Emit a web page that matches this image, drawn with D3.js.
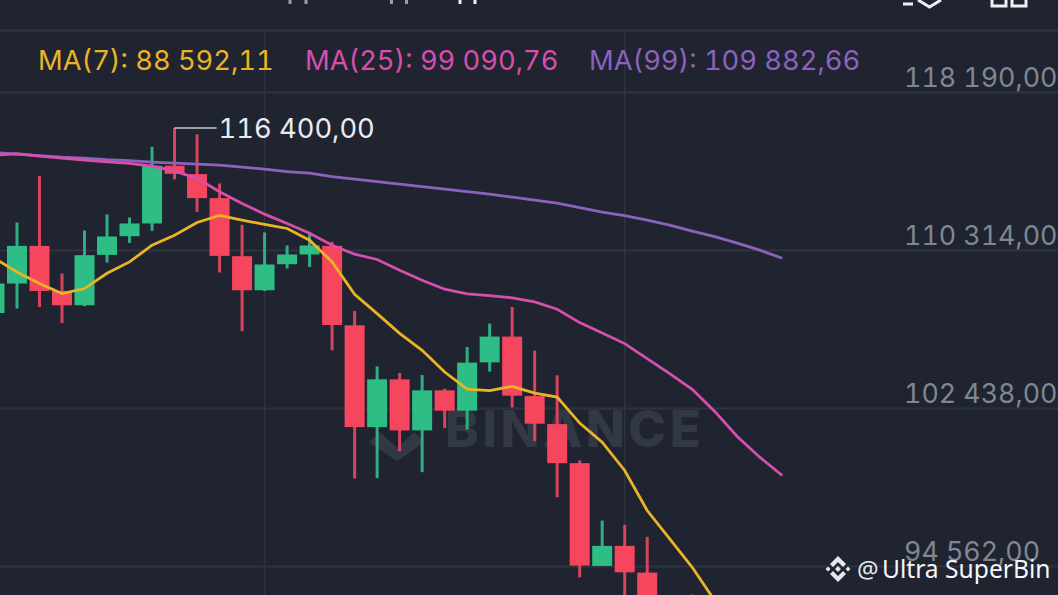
<!DOCTYPE html>
<html>
<head>
<meta charset="utf-8">
<script src="https://cdn.jsdelivr.net/npm/d3@7"></script>
<style>
  html, body { margin: 0; padding: 0; background: #1f2430; overflow: hidden; }
  text { font-family: Inter, "Noto Sans", sans-serif; font-variant-numeric: tabular-nums; }
</style>
</head>
<body>
<div id="chart"></div>
<script>
// candles, first one is cut by the left edge
var opens = [107175,108642,110519,108273,107559,110070,111003,111637,114512,114097,112900,110005,108308,109606,110090,110519,106561,101485,103866,101320,103317,102304,104714,105997,103032,101635,99688,94567,95565,94233,92336,91837];
var closes = [108642,110519,108273,107559,110055,110988,111637,114512,114113,112900,110020,108308,109591,110090,110539,106576,101485,103866,101320,103317,102304,104699,105997,103052,101655,99688,94582,95565,94248,90839,90839,90340];
var highs = [108642,111687,113998,109141,111288,112086,111936,115460,116400,116079,113633,111567,111188,110539,111218,110719,107275,104515,104180,104080,103402,105478,106646,107474,105298,104065,99823,96828,96614,96015,92835,93135];
var lows = [107175,107395,107474,106676,107509,109690,110669,111268,113833,112216,109191,106277,108273,109391,109471,105313,98925,98940,100287,99239,101435,101370,104250,102468,100786,97991,93998,94567,91837,90340,90340,89841];

var ma7 = [109905,109221,108642,108143,108393,109156,109721,110554,111053,111687,112036,111802,111587,111387,110803,109721,108108,107145,106162,105313,104230,103382,103302,103516,103182,102982,101685,100736,99324,97327,95915,94497,92835];
var ma25 = [115046,115111,114996,114896,114796,114711,114632,114497,114247,113883,113214,112635,112101,111637,111153,110554,110105,109840,109306,108807,108358,108123,108043,107924,107724,107360,106696,106177,105648,104899,104150,103367,102269,101021,99987,99074];
var ma99 = [115171,115096,115021,114946,114896,114821,114771,114696,114647,114597,114547,114447,114347,114222,114147,113973,113848,113723,113598,113474,113349,113224,113099,112950,112800,112650,112425,112201,112026,111802,111552,111253,110978,110654,110304,109905];

var priceTicks = [118190,110314,102438,94562];
var timeTicks = [12,28];
var maLabels = ["MA(7): 88 592,11","MA(25): 99 090,76","MA(99): 109 882,66"];
var maHigh = 116400;

var width = 1058, height = 595;
var bg = "#1f2430", grid = "#2d333f", up = "#2ebd85", down = "#f6465d";
var yellow = "#ebb426", pink = "#d64fae", purple = "#8c62bd";
var fontSize = "27.3px";

const mysvg = d3.select("#chart").append("svg")
    .attr("width", width)
    .attr("height", height)
    .style("display", "block");

mysvg.append("rect").attr("width", width).attr("height", height).attr("fill", bg);

var x = d3.scaleLinear().domain([1, 28]).range([17, 624.7]);
var y = d3.scaleLinear().domain([94562, 118190]).range([566, 92]);

function fmt(v) {
  return d3.format(",.2f")(v).replace(/,/g, " ").replace(".", ",");
}

// what is left of the toolbar icons
mysvg.append("path")
    .attr("d", "M290,0V4 M306,0V4 M391.5,0V4 M406.5,0V4")
    .attr("stroke", "#9a9fa8").attr("stroke-width", 3).attr("fill", "none");
mysvg.append("path")
    .attr("d", "M460,0V4 M475,0V4 M903,4H913 M918,0L929.5,7L941,0 M992,0V6H1006V0 M1012,0V6H1026V0")
    .attr("stroke", "#eef0f2").attr("stroke-width", 3).attr("fill", "none");

// top bar edge
mysvg.append("rect").attr("x", 0).attr("y", 29).attr("width", width).attr("height", 3).attr("fill", "#2a303b");

// grid
mysvg.append("g").selectAll("line").data(timeTicks).join("line")
    .attr("x1", d => x(d)).attr("x2", d => x(d))
    .attr("y1", 32).attr("y2", height)
    .attr("stroke", grid).attr("stroke-width", 1.5);

// price axis, labels sit above their grid lines
var yAxis = d3.axisRight(y).tickValues(priceTicks).tickSize(width).tickFormat(fmt);
var axisG = mysvg.append("g").call(yAxis);
axisG.select(".domain").remove();
axisG.selectAll("line").attr("stroke", grid).attr("stroke-width", 2);
axisG.selectAll("text")
    .attr("x", 904).attr("dy", -6)
    .attr("text-anchor", "start")
    .attr("fill", "#7f8793")
    .style("font-size", "26.8px");

// watermark
var wm = mysvg.append("g");
wm.append("text").attr("x", 445).attr("y", 447)
    .attr("fill", "#323944").style("font-size", "51px").style("font-weight", 800)
    .style("letter-spacing", "3.5px").text("BINANCE");
wm.append("path").attr("transform", "translate(397,448)")
    .attr("d", "M-28,-6 L-17,-16 L0,0 L17,-16 L28,-6 L0,13 Z")
    .attr("fill", "#323944");

// wicks
mysvg.append("g").selectAll("line").data(opens).join("line")
    .attr("x1", (d, i) => x(i)).attr("x2", (d, i) => x(i))
    .attr("y1", (d, i) => y(highs[i])).attr("y2", (d, i) => y(lows[i]))
    .attr("stroke", (d, i) => closes[i] >= d ? "#2fae82" : "#d8445c")
    .attr("stroke-width", 3);

// bodies
mysvg.append("g").selectAll("rect").data(opens).join("rect")
    .attr("x", (d, i) => x(i) - 10)
    .attr("width", 20)
    .attr("y", (d, i) => y(Math.max(d, closes[i])))
    .attr("height", (d, i) => Math.abs(y(d) - y(closes[i])))
    .attr("fill", (d, i) => closes[i] >= d ? up : down);

// moving averages
var line = d3.line().x((d, i) => x(i)).y(d => y(d));
[[ma99, purple], [ma25, pink], [ma7, yellow]].forEach(function(m) {
  mysvg.append("path").attr("d", line(m[0]))
      .attr("fill", "none").attr("stroke", m[1]).attr("stroke-width", 2.8);
});

// high marker
mysvg.append("line")
    .attr("x1", x(8)).attr("x2", x(8) + 42)
    .attr("y1", y(maHigh)).attr("y2", y(maHigh))
    .attr("stroke", "#c9ccd1").attr("stroke-width", 1.5);
mysvg.append("text").attr("x", x(8) + 44).attr("y", y(maHigh) + 10)
    .attr("fill", "#eaecef").style("font-size", fontSize).text(fmt(maHigh));

// legend
var legendX = [38, 305, 589];
var legendCol = [yellow, pink, purple];
mysvg.append("g").selectAll("text").data(maLabels).join("text")
    .attr("x", (d, i) => legendX[i]).attr("y", 70)
    .attr("fill", (d, i) => legendCol[i])
    .style("font-size", fontSize)
    .text(d => d);

// credit, bottom right
mysvg.append("path").attr("transform", "translate(838,569)")
    .attr("d", "M0,-13 L8,-5 L5,-2 L0,-7 L-5,-2 L-8,-5 Z M0,13 L8,5 L5,2 L0,7 L-5,2 L-8,5 Z M-10,-2.5 L-7.5,0 L-10,2.5 L-12.5,0 Z M10,-2.5 L12.5,0 L10,2.5 L7.5,0 Z M0,-3 L3,0 L0,3 L-3,0 Z")
    .attr("fill", "#e6e8ea");
mysvg.append("text").attr("x", 857).attr("y", 578)
    .attr("fill", "#e6e8ea").style("font-family", "Noto Sans").style("font-size", "24px").text("@");
mysvg.append("text").attr("x", 882).attr("y", 578)
    .attr("fill", "#f6f7f8").style("font-family", "Noto Sans").style("font-size", "24.6px").text("Ultra SuperBin");
</script>
</body>
</html>
